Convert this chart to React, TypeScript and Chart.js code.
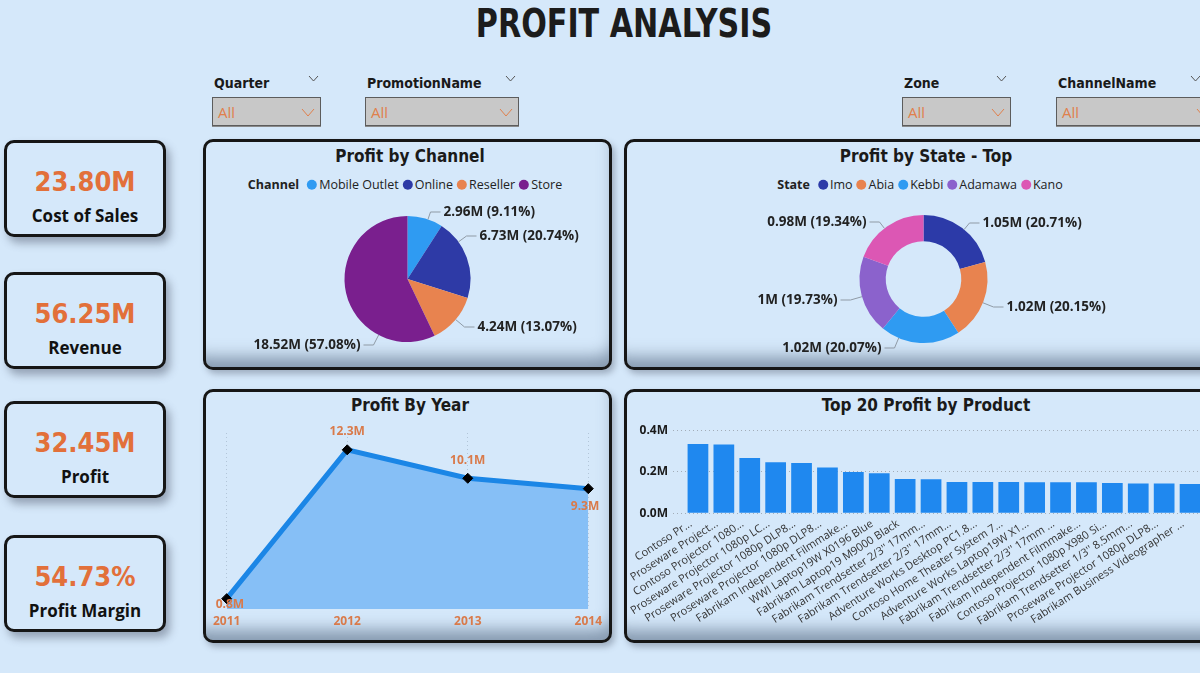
import React, { useEffect, useRef } from "react";
import { Chart, registerables } from "chart.js";

Chart.register(...registerables);

// ---------- data ----------
const kpiLabels = ["Cost of Sales", "Revenue", "Profit", "Profit Margin"];
const kpiValues = [23.8, 56.25, 32.45, 54.73];
const kpiUnits = ["M", "M", "M", "%"];

const slicerNames = ["Quarter", "PromotionName", "Zone", "ChannelName"];
const slicerValue = "All";

// Profit by channel, millions
const channelNames = ["Mobile Outlet", "Online", "Reseller", "Store"];
const channelProfit = [2.956, 6.73, 4.241, 18.522];
const channelColors = ["#2f9bf2", "#2e3aa6", "#e8834f", "#7a1f8e"];

// Top five states by profit, millions
const stateNames = ["Imo", "Abia", "Kebbi", "Adamawa", "Kano"];
const stateProfit = [1.05, 1.0216, 1.0175, 1.0003, 0.9804];
const stateColors = ["#2c3aa8", "#e8834f", "#2f9bf2", "#8b62cc", "#dc57b4"];

// Profit by year, millions
const years = ["2011", "2012", "2013", "2014"];
const yearProfit = [0.8, 12.3, 10.1, 9.3];
const yearLabelSide = ["below", "above", "above", "below"];

// Top 20 products by profit, millions
const productNames = [
  "Contoso Pr...",
  "Proseware Project...",
  "Contoso Projector 1080...",
  "Proseware Projector 1080p LC...",
  "Proseware Projector 1080p DLP8...",
  "Proseware Projector 1080p DLP8...",
  "Fabrikam Independent Filmmake...",
  "WWI Laptop19W X0196 Blue",
  "Fabrikam Laptop19 M9000 Black",
  "Fabrikam Trendsetter 2/3'' 17mm...",
  "Fabrikam Trendsetter 2/3'' 17mm...",
  "Adventure Works Desktop PC1.8...",
  "Contoso Home Theater System 7...",
  "Adventure Works Laptop19W X1...",
  "Fabrikam Trendsetter 2/3'' 17mm ...",
  "Fabrikam Independent Filmmake...",
  "Contoso Projector 1080p X980 Si...",
  "Fabrikam Trendsetter 1/3'' 8.5mm...",
  "Proseware Projector 1080p DLP8...",
  "Fabrikam Business Videographer ...",
];
const productProfit = [
  0.334, 0.331, 0.266, 0.246, 0.242, 0.22, 0.199, 0.193, 0.165, 0.164,
  0.151, 0.151, 0.151, 0.15, 0.15, 0.149, 0.146, 0.143, 0.143, 0.141,
];

// ---------- styling ----------
const COND = "'DejaVu Sans Condensed', 'Liberation Sans Narrow', sans-serif";
const UI = "'Open Sans', 'Noto Sans', sans-serif";
const BG = "#d5e8fa";
const ORANGE = "#e2703a";
const LABEL_ORANGE = "#d97a4a";

Chart.defaults.font.family = UI;

const trimNum = (v: number) => String(parseFloat(v.toFixed(2)));

// Outside slice labels joined to the slice by an elbowed leader line.
const leaderLabels = {
  id: "leaderLabels",
  afterDatasetsDraw(chart: any, _args: any, opts: any) {
    const { ctx } = chart;
    const values = chart.data.datasets[0].data as number[];
    const total = values.reduce((a, b) => a + b, 0);
    const meta = chart.getDatasetMeta(0);
    const TAU = Math.PI * 2;
    ctx.save();
    ctx.font = `bold ${opts.fontSize}px ${UI}`;
    ctx.textBaseline = "middle";
    meta.data.forEach((arc: any, i: number) => {
      const { x, y, startAngle, endAngle, outerRadius } = arc.getProps(
        ["x", "y", "startAngle", "endAngle", "outerRadius"],
        true
      );
      const [dx, dy] = opts.offsets[i];
      const right = dx >= 0;
      const lx = x + dx;
      const ly = y + dy;
      const ex = lx + (right ? -13 : 13);
      let a = Math.atan2(ly - y, ex - x);
      while (a < startAngle) a += TAU;
      while (a > startAngle + TAU) a -= TAU;
      const pad = Math.min(0.06, (endAngle - startAngle) / 4);
      if (a > endAngle - pad) {
        const dEnd = a - endAngle;
        const dStart = startAngle + TAU - a;
        a = dEnd < dStart ? endAngle - pad : startAngle + pad;
      } else if (a < startAngle + pad) {
        a = startAngle + pad;
      }
      const sx = x + Math.cos(a) * outerRadius;
      const sy = y + Math.sin(a) * outerRadius;
      ctx.strokeStyle = opts.lineColor;
      ctx.lineWidth = 1;
      ctx.beginPath();
      ctx.moveTo(sx, sy);
      ctx.lineTo(ex, ly);
      ctx.lineTo(lx + (right ? -3 : 3), ly);
      ctx.stroke();
      const text = `${trimNum(values[i])}M (${((values[i] / total) * 100).toFixed(2)}%)`;
      ctx.fillStyle = opts.color;
      ctx.textAlign = right ? "left" : "right";
      ctx.fillText(text, lx, ly);
    });
    ctx.restore();
  },
};

// Value labels above / below the line points.
const pointLabels = {
  id: "pointLabels",
  afterDatasetsDraw(chart: any, _args: any, opts: any) {
    const { ctx, chartArea } = chart;
    const values = chart.data.datasets[0].data as number[];
    const meta = chart.getDatasetMeta(0);
    ctx.save();
    ctx.font = `bold 12px ${UI}`;
    ctx.fillStyle = opts.color;
    ctx.textAlign = "center";
    ctx.textBaseline = "middle";
    meta.data.forEach((pt: any, i: number) => {
      const text = `${values[i].toFixed(1)}M`;
      const w = ctx.measureText(text).width;
      const below = opts.sides[i] === "below";
      let ty = pt.y + (below ? 18 : -18);
      ty = Math.min(ty, chartArea.bottom - 4);
      let tx = pt.x;
      tx = Math.max(tx, chartArea.left + w / 2 - 11);
      tx = Math.min(tx, chartArea.right - w / 2 + 11);
      ctx.fillText(text, tx, ty);
    });
    ctx.restore();
  },
};

function ChartBox({ make, style }: { make: () => any; style: React.CSSProperties }) {
  const ref = useRef<HTMLCanvasElement>(null);
  useEffect(() => {
    const chart = new Chart(ref.current as HTMLCanvasElement, make());
    return () => chart.destroy();
  }, []);
  return (
    <div style={{ position: "absolute", ...style }}>
      <canvas ref={ref} />
    </div>
  );
}

function Txt({
  x,
  y,
  children,
  style,
}: {
  x: number;
  y: number;
  children: React.ReactNode;
  style?: React.CSSProperties;
}) {
  return (
    <div
      style={{
        position: "absolute",
        left: x,
        top: y,
        transform: "translate(-50%, -50%)",
        whiteSpace: "nowrap",
        lineHeight: 1,
        ...style,
      }}
    >
      {children}
    </div>
  );
}

function Panel({ left, top, width, height }: { left: number; top: number; width: number; height: number }) {
  return (
    <div
      style={{
        position: "absolute",
        left,
        top,
        width,
        height,
        boxSizing: "border-box",
        border: "3px solid #161616",
        borderRadius: 10,
        background: BG,
        boxShadow:
          "inset -7px -22px 16px -12px rgba(80,100,125,0.6), 3px 4px 6px rgba(60,70,90,0.35)",
      }}
    />
  );
}

function Chevron({ x, y, w, h, color }: { x: number; y: number; w: number; h: number; color: string }) {
  return (
    <svg
      width={w + 2}
      height={h + 2}
      style={{ position: "absolute", left: x - w / 2 - 1, top: y - h / 2 - 1 }}
    >
      <polyline
        points={`1,1 ${w / 2 + 1},${h + 1} ${w + 1},1`}
        fill="none"
        stroke={color}
        strokeWidth={1}
      />
    </svg>
  );
}

function Legend({
  title,
  names,
  colors,
  x,
  y,
}: {
  title: string;
  names: string[];
  colors: string[];
  x: number;
  y: number;
}) {
  return (
    <Txt x={x} y={y} style={{ fontFamily: UI, fontSize: 12.5, color: "#222", display: "flex", alignItems: "center" }}>
      <span style={{ fontWeight: 700, marginRight: 8 }}>{title}</span>
      {names.map((n, i) => (
        <span key={i} style={{ display: "flex", alignItems: "center", marginRight: i < names.length - 1 ? 4 : 0 }}>
          <span
            style={{
              width: 10,
              height: 10,
              borderRadius: 5,
              background: colors[i],
              display: "inline-block",
              marginRight: 2,
            }}
          />
          {n}
        </span>
      ))}
    </Txt>
  );
}

const kpiTops = [140, 272, 401, 535];
const slicerBoxes = [
  { left: 212, width: 109, head: 313 },
  { left: 365, width: 154, head: 510 },
  { left: 902, width: 109, head: 1001 },
  { left: 1056, width: 160, head: 1195 },
];

const titleStyle: React.CSSProperties = {
  fontFamily: COND,
  fontWeight: 700,
  fontSize: 17,
  color: "#1a1a1a",
};

export default function App() {
  const pieConfig = () => ({
    type: "pie",
    data: {
      labels: channelNames,
      datasets: [{ data: channelProfit, backgroundColor: channelColors, borderWidth: 0, radius: 63 }],
    },
    options: {
      animation: false,
      responsive: true,
      maintainAspectRatio: false,
      layout: { padding: { top: 49 } },
      plugins: {
        legend: { display: false },
        tooltip: { enabled: false },
        leaderLabels: {
          offsets: [
            [36, -67],
            [72, -43],
            [70, 48],
            [-47, 66],
          ],
          fontSize: 13.5,
          color: "#222",
          lineColor: "#8f9aa5",
        },
      },
    },
    plugins: [leaderLabels],
  });

  const donutConfig = () => ({
    type: "doughnut",
    data: {
      labels: stateNames,
      datasets: [{ data: stateProfit, backgroundColor: stateColors, borderWidth: 0, radius: 64, cutout: "59%" }],
    },
    options: {
      animation: false,
      responsive: true,
      maintainAspectRatio: false,
      layout: { padding: { top: 49 } },
      plugins: {
        legend: { display: false },
        tooltip: { enabled: false },
        leaderLabels: {
          offsets: [
            [59, -56],
            [83, 28],
            [-42, 69],
            [-86, 21],
            [-57, -57],
          ],
          fontSize: 13.5,
          color: "#222",
          lineColor: "#8f9aa5",
        },
      },
    },
    plugins: [leaderLabels],
  });

  const lineConfig = () => ({
    type: "line",
    data: {
      labels: years,
      datasets: [
        {
          data: yearProfit,
          borderColor: "#1b86e6",
          borderWidth: 5,
          backgroundColor: "#86bff6",
          fill: "origin",
          tension: 0,
          pointStyle: "rectRot",
          pointRadius: 5,
          pointBackgroundColor: "#000",
          pointBorderColor: "#000",
          pointBorderWidth: 1,
        },
      ],
    },
    options: {
      animation: false,
      responsive: true,
      maintainAspectRatio: false,
      layout: { padding: { left: 20.7, right: 20.7, top: 13, bottom: 0 } },
      scales: {
        x: {
          offset: false,
          grid: { display: true, color: "rgba(150,168,188,0.55)", drawTicks: false },
          border: { display: false, dash: [1, 3] },
          ticks: { color: LABEL_ORANGE, font: { family: UI, size: 12, weight: "bold" }, padding: 5 },
          afterFit: (s: any) => {
            s.height = 30;
          },
        },
        y: { display: false, min: 0, max: 13.6 },
      },
      plugins: {
        legend: { display: false },
        tooltip: { enabled: false },
        pointLabels: { sides: yearLabelSide, color: LABEL_ORANGE },
      },
    },
    plugins: [pointLabels],
  });

  const barConfig = () => ({
    type: "bar",
    data: {
      labels: productNames,
      datasets: [
        {
          data: productProfit,
          backgroundColor: "#1f88ef",
          barPercentage: 0.8,
          categoryPercentage: 1,
        },
      ],
    },
    options: {
      animation: false,
      responsive: true,
      maintainAspectRatio: false,
      layout: { padding: { top: 11, right: 24, left: 0, bottom: 0 } },
      scales: {
        x: {
          grid: { display: false, drawTicks: false },
          border: { display: false },
          ticks: {
            autoSkip: false,
            minRotation: 33,
            maxRotation: 33,
            color: "#333",
            font: { family: UI, size: 11 },
            padding: 4,
            labelOffset: -7,
          },
          afterFit: (s: any) => {
            s.height = 124.7;
          },
        },
        y: {
          min: 0,
          max: 0.4,
          ticks: {
            stepSize: 0.2,
            color: "#1a1a1a",
            font: { family: UI, size: 12, weight: "bold" },
            padding: 5,
            callback: (v: any) => `${Number(v).toFixed(1)}M`,
          },
          grid: {
            color: "#a3adb8",
            drawTicks: true,
            tickLength: 12,
            tickColor: "#a3adb8",
            tickBorderDash: [1, 3],
          },
          border: { display: false, dash: [1, 3] },
          afterFit: (s: any) => {
            s.width = 58;
          },
        },
      },
      plugins: { legend: { display: false }, tooltip: { enabled: false } },
    },
  });

  return (
    <div
      style={{
        position: "fixed",
        left: 0,
        top: 0,
        width: 1200,
        height: 673,
        overflow: "hidden",
        background: BG,
        fontFamily: UI,
      }}
    >
      <Txt
        x={624}
        y={23}
        style={{ fontFamily: COND, fontWeight: 700, fontSize: 39, color: "#1c1c1c", transform: "translate(-50%, -50%) scaleX(0.86)" }}
      >
        PROFIT ANALYSIS
      </Txt>

      {/* slicers */}
      {slicerNames.map((name, i) => {
        const b = slicerBoxes[i];
        return (
          <React.Fragment key={name}>
            <div
              style={{
                position: "absolute",
                left: b.left + 2,
                top: 74,
                fontFamily: COND,
                fontWeight: 700,
                fontSize: 14,
                lineHeight: "18px",
                color: "#1a1a1a",
                whiteSpace: "nowrap",
              }}
            >
              {name}
            </div>
            <Chevron x={b.head} y={78} w={9} h={5} color="#555" />
            <div
              style={{
                position: "absolute",
                left: b.left,
                top: 97,
                width: b.width,
                height: 29,
                boxSizing: "border-box",
                background: "#c8c8c8",
                border: "1px solid #5c5c5c",
                boxShadow: "0 1px 0 #8a8a8a",
              }}
            />
            <div
              style={{
                position: "absolute",
                left: b.left + 6,
                top: 103,
                fontFamily: UI,
                fontSize: 15,
                lineHeight: "18px",
                color: "#e0804c",
              }}
            >
              {slicerValue}
            </div>
            <Chevron x={b.left + b.width - 13} y={112} w={12} h={7} color="#e0804c" />
          </React.Fragment>
        );
      })}

      {/* KPI cards */}
      {kpiLabels.map((label, i) => (
        <React.Fragment key={label}>
          <div
            style={{
              position: "absolute",
              left: 4,
              top: kpiTops[i],
              width: 162,
              height: 97,
              boxSizing: "border-box",
              border: "3px solid #161616",
              borderRadius: 10,
              background: BG,
              boxShadow: "4px 6px 8px rgba(70,80,100,0.45)",
            }}
          />
          <Txt x={85} y={kpiTops[i] + 41} style={{ fontFamily: COND, fontWeight: 700, fontSize: 27, color: ORANGE }}>
            {kpiValues[i].toFixed(2) + kpiUnits[i]}
          </Txt>
          <Txt x={85} y={kpiTops[i] + 75} style={{ fontFamily: UI, fontWeight: 700, fontSize: 17, color: "#111" }}>
            {label}
          </Txt>
        </React.Fragment>
      ))}

      {/* chart panels */}
      <Panel left={203} top={139} width={409} height={231} />
      <Panel left={624} top={139} width={620} height={231} />
      <Panel left={203} top={389} width={409} height={254} />
      <Panel left={624} top={389} width={620} height={254} />

      <Txt x={410} y={156} style={titleStyle}>Profit by Channel</Txt>
      <Legend title="Channel" names={channelNames} colors={channelColors} x={405} y={185} />
      <Txt x={926} y={156} style={titleStyle}>Profit by State - Top</Txt>
      <Legend title="State" names={stateNames} colors={stateColors} x={920} y={185} />
      <Txt x={410} y={405} style={titleStyle}>Profit By Year</Txt>
      <Txt x={926} y={405} style={titleStyle}>Top 20 Profit by Product</Txt>

      <ChartBox make={pieConfig} style={{ left: 206, top: 142, width: 403, height: 225 }} />
      <ChartBox make={donutConfig} style={{ left: 627, top: 142, width: 593, height: 225 }} />
      <ChartBox make={lineConfig} style={{ left: 206, top: 420, width: 403, height: 219 }} />
      <ChartBox make={barConfig} style={{ left: 627, top: 418, width: 600, height: 220 }} />
    </div>
  );
}
